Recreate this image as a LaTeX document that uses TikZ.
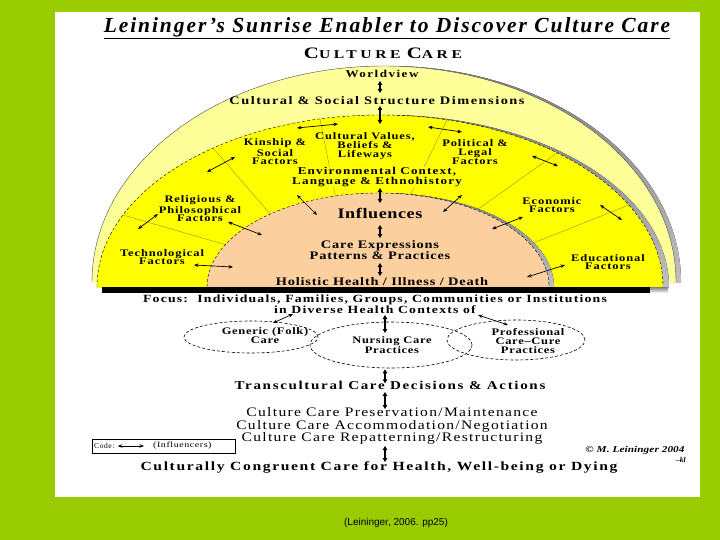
\documentclass[tikz,border=0pt]{standalone}
\usepackage{fontspec}
\setmainfont{Liberation Serif}
\setsansfont{Liberation Sans}
\usepackage{tikz}
\usetikzlibrary{arrows.meta,shapes.geometric}
\definecolor{slidegreen}{RGB}{153,204,0}
\definecolor{paleyel}{RGB}{255,255,153}
\definecolor{sunyel}{RGB}{255,255,0}
\definecolor{peach}{RGB}{252,207,158}
\definecolor{shade}{RGB}{128,128,128}
\definecolor{rayline}{RGB}{150,150,40}
\newcommand{\trk}[1]{\addfontfeatures{LetterSpace=#1}}
\newcommand{\wide}[1]{\addfontfeatures{FakeStretch=1.25,LetterSpace=#1}}

\begin{document}
\begin{tikzpicture}[x=1pt,y=-1pt,
  lbl/.style={font=\fontsize{10}{8.8}\selectfont\bfseries\wide{9}, align=center, inner sep=0.5pt},
  big/.style={font=\fontsize{11.5}{12}\selectfont\bfseries\wide{13}, align=center, inner sep=1pt},
  small/.style={font=\fontsize{10}{9}\selectfont\bfseries\wide{7}, align=center, inner sep=0.5pt},
  plain/.style={font=\fontsize{13}{12.3}\selectfont\addfontfeatures{FakeStretch=1.2,LetterSpace=10}, align=center, inner sep=1pt},
  ring/.style={ellipse, draw, densely dashed, semithick, inner sep=0pt},
  spine/.style={<->, >={Triangle[length=4pt,width=4.5pt]}, line width=1.3pt},
  infl/.style={<->, >={Stealth[length=4.5pt,width=3.5pt]}, line width=0.7pt},
  ray/.style={draw=rayline, line width=0.4pt}]
  \useasboundingbox (0,0) rectangle (720,540);
  \fill[slidegreen] (0,0) rectangle (720,540);
  \fill[white] (55,12) rectangle (700,497);

  % sunrise bands
  \begin{scope}
    \clip (60,20) rectangle (695,282);
    \fill[shade] (389,282) ellipse [x radius=292, y radius=216];
    \filldraw[fill=paleyel, draw=black!70, thin] (384,282) ellipse [x radius=292, y radius=216];
  \end{scope}
  \begin{scope}
    \clip (60,20) rectangle (695,287);
    \fill[shade] (386,287) ellipse [x radius=283, y radius=172];
    \fill[sunyel] (380,287) ellipse [x radius=283, y radius=172];
    \draw[densely dashed, thin] (380,287) ellipse [x radius=283, y radius=172];
  \end{scope}
  \draw[ray] (123,215) -- (230,246);
  \draw[ray] (213,148) -- (272,216);
  \draw[ray] (320,119) -- (336,200);
  \draw[ray] (447,120) -- (408,200);
  \draw[ray] (557,153) -- (474,212);
  \draw[ray] (629,205) -- (528,245);
  \begin{scope}
    \clip (60,20) rectangle (695,287);
    \fill[shade] (383,287) ellipse [x radius=171, y radius=94];
    \fill[peach] (378,287) ellipse [x radius=171, y radius=94];
    \draw[densely dashed, thin] (378,287) ellipse [x radius=171, y radius=94];
  \end{scope}
  \fill[black] (102,287) rectangle (650,293);
  \fill[shade] (650,287) rectangle (668,293);

  % texts
  \node[font=\fontsize{21.5}{21}\selectfont\bfseries\itshape\trk{9}, inner sep=0pt] (title) at (387,28)
    {\underline{Leininger’s Sunrise Enabler to Discover Culture Care}};
  \node[font=\bfseries\addfontfeatures{FakeStretch=1.3,LetterSpace=30}, inner sep=1pt] (cc) at (383,53)
    {{\fontsize{16}{15}\selectfont C}{\fontsize{12}{15}\selectfont ULTURE} {\fontsize{16}{15}\selectfont C}{\fontsize{12}{15}\selectfont ARE}};
  \node[lbl, font=\fontsize{10.5}{10}\selectfont\bfseries\wide{14}] (wv) at (382,74) {Worldview};
  \node[big] (cssd) at (377,101) {Cultural \& Social Structure Dimensions};
  \node[lbl] (kin) at (275,152) {Kinship \&\\Social\\Factors};
  \node[lbl] (cvb) at (365,146) {Cultural Values,\\Beliefs \&\\Lifeways};
  \node[lbl] (pol) at (475,152) {Political \&\\Legal\\Factors};
  \node[lbl, fill=sunyel, font=\fontsize{10.5}{10}\selectfont\bfseries\wide{11}] (env) at (377,177) {Environmental Context,\\Language \& Ethnohistory};
  \node[lbl] (rel) at (200,209) {Religious \&\\Philosophical\\Factors};
  \node[lbl] (eco) at (552,205) {Economic\\Factors};
  \node[lbl] (tech) at (162,257) {Technological\\Factors};
  \node[lbl] (edu) at (608,262) {Educational\\Factors};
  \node[font=\fontsize{14.5}{14}\selectfont\bfseries\wide{4}, inner sep=1pt] (infl) at (380,213) {Influences};
  \node[lbl, font=\fontsize{11.5}{10}\selectfont\bfseries\wide{7}] (care) at (380,250) {Care Expressions\\Patterns \& Practices};
  \node[lbl, font=\fontsize{11.5}{10}\selectfont\bfseries\wide{7}] (hol) at (382,282) {Holistic Health / Illness / Death};

  \node[lbl, font=\fontsize{11}{11.5}\selectfont\bfseries\wide{11}] (focus) at (375,304)
    {Focus:\ \ Individuals, Families, Groups, Communities or Institutions\\in Diverse Health Contexts of};
  \node[ring, minimum width=134, minimum height=32] (folkR) at (251,337) {};
  \node[ring, minimum width=162, minimum height=46] (nurseR) at (391,345) {};
  \node[ring, minimum width=138, minimum height=40] (profR) at (516,340) {};
  \node[small] (folk) at (265,336) {Generic (Folk)\\Care};
  \node[small] (nurse) at (392,345) {Nursing Care\\Practices};
  \node[small] (prof) at (528,341) {Professional\\Care--Cure\\Practices};

  \node[big, font=\fontsize{12}{12}\selectfont\bfseries\wide{14}] (trans) at (390,385) {Transcultural Care Decisions \& Actions};
  \node[plain] (modes) at (392,426)
    {Culture Care Preservation/Maintenance\\Culture Care Accommodation/Negotiation\\Culture Care Repatterning/Restructuring};
  \node[big, font=\fontsize{12.5}{12}\selectfont\bfseries\wide{13}] (ccc) at (379,467) {Culturally Congruent Care for Health, Well-being or Dying};

  \node[draw, thin, minimum width=143, minimum height=14, inner sep=0pt] (codebox) at (163.5,446) {};
  \node[font=\fontsize{7.5}{8}\selectfont\trk{8}, anchor=west, inner sep=1pt] (code) at (93,446) {Code:};
  \node[font=\fontsize{8}{8}\selectfont\wide{7}, anchor=west, inner sep=1pt] (codeinf) at (152,446) {(Influencers)};
  \node[font=\fontsize{9}{9}\selectfont\bfseries\itshape\wide{1}, inner sep=0pt] (copy) at (635,450) {© M. Leininger 2004};
  \node[font=\fontsize{7.5}{8}\selectfont\bfseries\itshape, anchor=east, inner sep=0pt] (kl) at (686,460) {--kl};

  \node[font=\sffamily\fontsize{10}{12}\selectfont, inner sep=0pt] (cite) at (396,523) {(Leininger, 2006. pp25)};

  % influencer arrows
  \coordinate (cvL) at (297,128); \coordinate (cvLe) at (338,124);
  \coordinate (cvR) at (428,127); \coordinate (cvRe) at (462,132);
  \coordinate (kinA) at (207,172); \coordinate (kinB) at (235,157);
  \coordinate (polA) at (532,156); \coordinate (polB) at (558,166);
  \coordinate (relA) at (138,229); \coordinate (relB) at (158,214);
  \coordinate (relC) at (228,222); \coordinate (relD) at (262,235);
  \coordinate (envA) at (297,195); \coordinate (envB) at (317,215);
  \coordinate (envC) at (462,195); \coordinate (envD) at (443,212);
  \coordinate (ecoA) at (523,217); \coordinate (ecoB) at (492,229);
  \coordinate (ecoC) at (600,205); \coordinate (ecoD) at (622,220);
  \coordinate (eduA) at (565,265); \coordinate (eduB) at (527,277);
  \coordinate (techA) at (194,265); \coordinate (techB) at (233,267);
  \coordinate (folkA) at (273,323); \coordinate (folkB) at (293,314);
  \coordinate (profA) at (478,315); \coordinate (profB) at (508,325);
  \path[infl]
  (cvL) edge (cvLe)
  (cvR) edge (cvRe)
  (kinA) edge (kinB)
  (polA) edge (polB)
  (relA) edge (relB)
  (relC) edge (relD)
  (envA) edge (envB)
  (envC) edge (envD)
  (ecoA) edge (ecoB)
  (ecoC) edge (ecoD)
  (eduA) edge (eduB)
  (techA) edge (techB)
  (folkA) edge (folkB)
  (profA) edge (profB)
  (code.east) ++(2,0) coordinate (codeL) (codeinf.west) ++(-8,0) coordinate (codeR)
  (codeL) edge (codeR)
  ;

  % main spine
  \coordinate (bandtop) at (380,124);
  \coordinate (nurseTop) at (385,333);
  \path[spine]
  (380,81) coordinate (s1) edge (380,93)
  (380,106) edge (bandtop)
  (380,188) edge (380,203)
  (380,225) edge (380,238)
  (380,263) edge (380,276)
  (385,315) edge (nurseTop)
  (nurseR.south -| nurseTop) ++(0,1) edge ++(0,14)
  (385,392) edge (385,409)
  (385,446) edge (385,462)
  ;
\end{tikzpicture}
\end{document}
